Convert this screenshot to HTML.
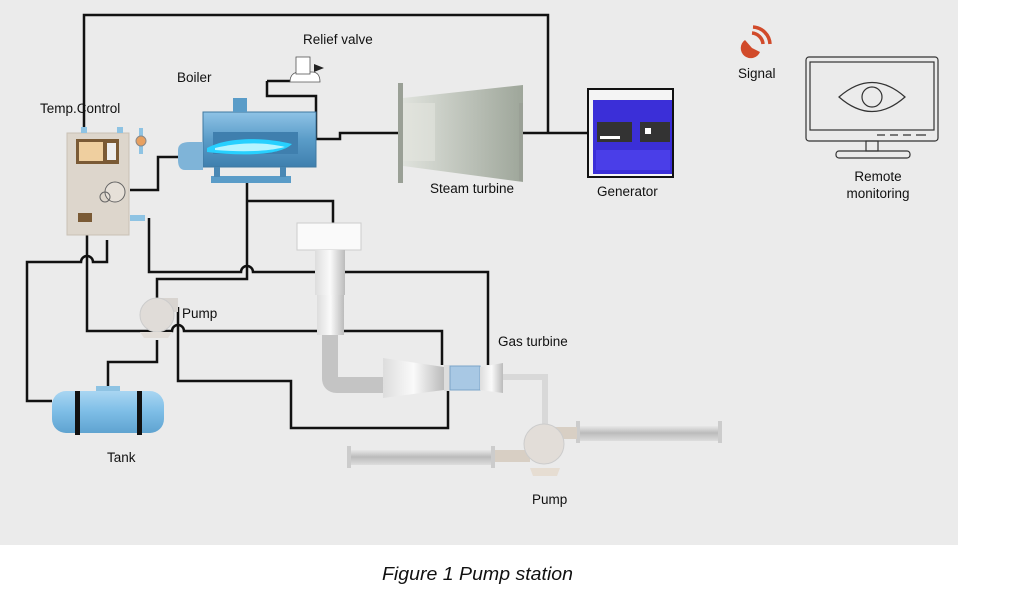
<!DOCTYPE html>
<html><head><meta charset="utf-8"><style>
body{margin:0;width:1024px;height:599px;background:#fff;overflow:hidden}
svg{display:block}
text{font-family:"Liberation Sans",sans-serif;font-size:13.5px;fill:#111}
</style></head><body>
<svg width="1024" height="599" viewBox="0 0 1024 599" xmlns="http://www.w3.org/2000/svg">
<defs>
<linearGradient id="bl" x1="0" y1="0" x2="0" y2="1"><stop offset="0" stop-color="#8fc3e6"/><stop offset="0.5" stop-color="#5a9cc8"/><stop offset="1" stop-color="#3f7fae"/></linearGradient>
<linearGradient id="tk" x1="0" y1="0" x2="0" y2="1"><stop offset="0" stop-color="#a9d6f2"/><stop offset="0.5" stop-color="#7dbde6"/><stop offset="1" stop-color="#5fa3d0"/></linearGradient>
<linearGradient id="gr" x1="0" y1="0" x2="1" y2="0"><stop offset="0" stop-color="#dfe2dc"/><stop offset="1" stop-color="#9ea69a"/></linearGradient>
<linearGradient id="pp" x1="0" y1="0" x2="0" y2="1"><stop offset="0" stop-color="#eee"/><stop offset="0.5" stop-color="#bbb"/><stop offset="1" stop-color="#ddd"/></linearGradient>
<linearGradient id="wc" x1="0" y1="0" x2="1" y2="0"><stop offset="0" stop-color="#ddd"/><stop offset="0.5" stop-color="#fafafa"/><stop offset="1" stop-color="#bbb"/></linearGradient>
</defs>
<rect x="0" y="0" width="958" height="545" fill="#ebebeb"/>

<path d="M330 330 V378 Q330 385 337 385 H390" fill="none" stroke="#c4c4c4" stroke-width="16"/>
<path d="M503 377 H545 V425" fill="none" stroke="#d8d8d8" stroke-width="6"/>

<g fill="none" stroke="#111" stroke-width="2.5">
<path d="M84 130 V15 H548 V133"/>
<path d="M316 139 H340 V133 H400"/>
<path d="M523 133 H590"/>
<path d="M267 81 H290 M267 81 V96 H316 V139"/>
<path d="M130 190 H158 V157 H178"/>
<path d="M247 183 V279 H157 V298"/>
<path d="M247 201 H333 V225"/>
<path d="M149 218 V272 H241 A6 6 0 0 1 253 272 H488 V365"/>
<path d="M87 218 V331 H172 A6 6 0 0 1 184 331 H442 V365"/>
<path d="M107 240 V262 H93 A6 6 0 0 0 81 262 H27 V401 H52"/>
<path d="M157 340 V362 H108 V388"/>
<path d="M178 307 V381 H291 V428 H448 V380"/>
</g>

<rect x="67" y="133" width="62" height="102" fill="#ddd6cc" stroke="#c9c0b5"/>
<rect x="76" y="139" width="43" height="25" fill="#7a5a35"/>
<rect x="79" y="142" width="24" height="19" fill="#efcf9f"/>
<rect x="107" y="143" width="9" height="17" fill="#eee"/>
<rect x="78" y="213" width="14" height="9" fill="#7a5a35"/>
<circle cx="115" cy="192" r="10" fill="#e6e0d8" stroke="#666"/>
<circle cx="105" cy="197" r="5" fill="none" stroke="#666"/>
<rect x="81" y="127" width="6" height="6" fill="#8ec3e3"/><rect x="117" y="127" width="6" height="6" fill="#8ec3e3"/>
<rect x="130" y="215" width="15" height="6" fill="#8ec3e3"/>
<rect x="139" y="128" width="4" height="26" fill="#8ec3e3"/><circle cx="141" cy="141" r="5" fill="#e8a060" stroke="#888"/>

<rect x="203" y="112" width="113" height="55" fill="url(#bl)" stroke="#3f78a0"/>
<rect x="233" y="98" width="14" height="14" fill="#5a9cc8"/>
<rect x="213" y="132" width="85" height="22" fill="#3f7fae"/>
<path d="M207 148 C225 138 260 136 292 144 C280 156 240 156 207 152Z" fill="#27d0ff"/>
<path d="M215 148 C240 142 265 142 285 147 C265 152 240 152 215 150Z" fill="#b6f4ff"/>
<rect x="211" y="176" width="80" height="7" fill="#5a9cc8"/>
<rect x="214" y="167" width="6" height="10" fill="#4a88b4"/><rect x="280" y="167" width="6" height="10" fill="#4a88b4"/>
<path d="M178 150 Q178 142 190 142 H203 V170 H185 Q178 170 178 160Z" fill="#7fb4d8"/>

<path d="M290 82 Q290 72 300 72 H312 Q320 72 320 82Z" fill="#fff" stroke="#555" stroke-width="0.8"/>
<rect x="296" y="57" width="14" height="17" fill="#fff" stroke="#555" stroke-width="0.8"/>
<path d="M314 64 L324 68 L314 72Z" fill="#222"/>

<path d="M403 98 L523 85 V182 L403 166Z" fill="url(#gr)"/>
<rect x="403" y="103" width="32" height="58" fill="#e2e5de" opacity="0.6"/>
<rect x="398" y="83" width="5" height="100" fill="#9aa096"/>
<rect x="519" y="103" width="4" height="78" fill="#9aa096"/>

<rect x="588" y="89" width="85" height="88" fill="#f4f4f4" stroke="#111" stroke-width="2"/>
<rect x="593" y="100" width="79" height="74" fill="#3b2fd8"/>
<rect x="597" y="122" width="35" height="20" fill="#333"/>
<rect x="640" y="122" width="30" height="20" fill="#333"/>
<rect x="600" y="136" width="20" height="3" fill="#fff"/><rect x="645" y="128" width="6" height="6" fill="#fff"/>
<rect x="596" y="150" width="74" height="20" fill="#4a3ee8"/>

<rect x="297" y="223" width="64" height="27" fill="#fafafa" stroke="#ccc"/>
<rect x="315" y="250" width="30" height="45" fill="url(#wc)"/>
<rect x="317" y="295" width="27" height="40" fill="url(#wc)"/>
<path d="M383 358 L444 367 V390 L383 398Z" fill="url(#wc)"/>
<rect x="444" y="365" width="6" height="26" fill="#ddd"/>
<rect x="450" y="366" width="30" height="24" fill="#a8c8e4" stroke="#7ba4c8"/>
<path d="M480 367 L503 363 V393 L480 390Z" fill="url(#wc)"/>

<rect x="350" y="449" width="145" height="16" fill="url(#pp)"/>
<rect x="347" y="446" width="4" height="22" fill="#ccc"/><rect x="491" y="446" width="4" height="22" fill="#ccc"/>
<rect x="495" y="450" width="35" height="12" fill="#d8cfc4"/>
<rect x="580" y="425" width="138" height="16" fill="url(#pp)"/>
<rect x="576" y="421" width="4" height="22" fill="#ccc"/><rect x="718" y="421" width="4" height="22" fill="#ccc"/>
<rect x="545" y="427" width="32" height="12" fill="#d8cfc4"/>
<circle cx="544" cy="444" r="20" fill="#e2ddd8" stroke="#ccc"/>
<path d="M530 468 H560 L557 476 H533Z" fill="#e6ddd2"/>

<rect x="157" y="298" width="21" height="14" fill="#d8d4d0"/>
<circle cx="157" cy="315" r="17" fill="#e0dcd8" stroke="#ccc"/>
<path d="M140 332 H172 L168 338 H144Z" fill="#e2ddd8"/>

<rect x="96" y="386" width="24" height="5" fill="#8ec3e3"/>
<rect x="52" y="391" width="112" height="42" rx="14" fill="url(#tk)"/>
<rect x="75" y="391" width="5" height="44" fill="#111"/><rect x="137" y="391" width="5" height="44" fill="#111"/>

<path d="M745 40 A10 10 0 1 0 760 52 L752 48Z" fill="#d14a2a"/>
<path d="M752 33 A12 12 0 0 1 763 44 M753 27 A18 18 0 0 1 770 44" fill="none" stroke="#d14a2a" stroke-width="3.5"/>

<rect x="806" y="57" width="132" height="84" rx="3" fill="none" stroke="#333" stroke-width="1.2"/>
<rect x="810" y="62" width="124" height="68" fill="none" stroke="#333" stroke-width="1.2"/>
<path d="M839 97 Q872 68 905 97 Q872 126 839 97Z" fill="none" stroke="#333" stroke-width="1.2"/>
<circle cx="872" cy="97" r="10" fill="none" stroke="#333" stroke-width="1.2"/>
<path d="M877 135 h8 M890 135 h8 M903 135 h8 M916 135 h10" stroke="#333" stroke-width="1.2"/>
<rect x="866" y="141" width="12" height="10" fill="none" stroke="#333" stroke-width="1.2"/>
<rect x="836" y="151" width="74" height="7" rx="3" fill="none" stroke="#333" stroke-width="1.2"/>

<text x="303" y="44">Relief valve</text>
<text x="177" y="82">Boiler</text>
<text x="40" y="113">Temp.Control</text>
<text x="430" y="193">Steam turbine</text>
<text x="597" y="196">Generator</text>
<text x="738" y="78">Signal</text>
<text x="878" y="181" text-anchor="middle">Remote</text>
<text x="878" y="198" text-anchor="middle">monitoring</text>
<text x="182" y="318">Pump</text>
<text x="498" y="346">Gas turbine</text>
<text x="107" y="462">Tank</text>
<text x="532" y="504">Pump</text>
<text x="382" y="580" style="font-size:18.5px;font-style:italic" textLength="191" lengthAdjust="spacingAndGlyphs">Figure 1 Pump station</text>
</svg>
</body></html>
